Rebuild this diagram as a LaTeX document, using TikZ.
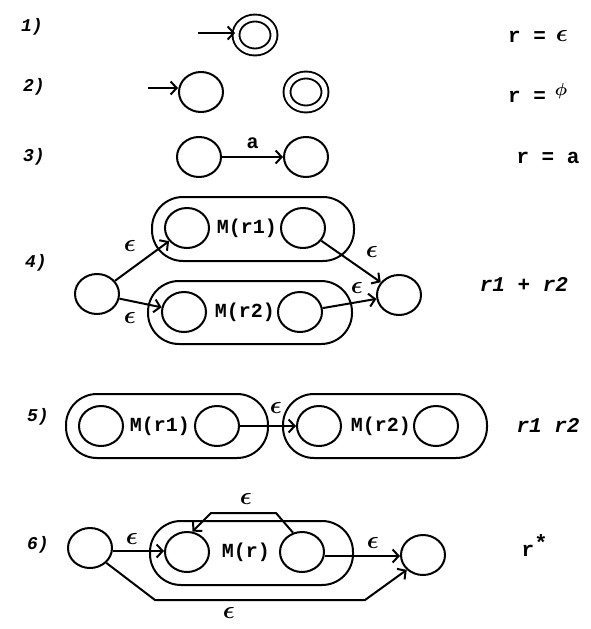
\documentclass[tikz,border=0pt]{standalone}
\usepackage{fontspec}
\setmonofont{Liberation Mono}
\usetikzlibrary{shapes.geometric,arrows.meta}
\begin{document}
\begin{tikzpicture}[x=1pt,y=-1pt,
 st/.style={draw, ellipse, line width=2pt, minimum width=44pt, minimum height=40pt, inner sep=0pt},
 acc/.style={draw, ellipse, double, double distance=5pt, line width=1.9pt, minimum width=38pt, minimum height=34pt, inner sep=0pt},
 arr/.style={line width=2pt, -{Straight Barb[length=6pt,width=13pt,line width=2pt]}},
 box/.style={draw, line width=2pt, rounded corners=31pt, rectangle, inner sep=0pt},
 num/.style={font=\ttfamily\bfseries\itshape\fontsize{18}{20}\selectfont},
 rhs/.style={font=\ttfamily\bfseries\fontsize{21}{23}\selectfont, inner sep=0pt},
 rhsi/.style={font=\ttfamily\bfseries\itshape\fontsize{21}{23}\selectfont, inner sep=0pt},
 mlab/.style={font=\ttfamily\bfseries\fontsize{20}{22}\selectfont, inner sep=0pt},
 eps/.style={font=\boldmath\fontsize{25}{27}\selectfont, inner sep=0pt},
]
\useasboundingbox (0,0) rectangle (591,629);
% 1)
\node[num] (n1) at (32,27) {1)};
\node[acc] (d1) at (255,35) {};
\coordinate (s1) at (198,33);
\draw[arr] (s1) -- (d1.west |- s1);
\node[rhs] (r1) at (527,37) {r =};
\node[eps] (e1) at (562,36) {$\epsilon$};
% 2)
\node[num] (n2) at (34,87) {2)};
\node[st] (q2) at (201,92) {};
\node[acc] (f2) at (306,92) {};
\coordinate (s2) at (148,88);
\draw[arr] (s2) -- (q2.west |- s2);
\node[rhs] (r2) at (527,97) {r =};
\node[font=\boldmath\fontsize{18}{20}\selectfont, inner sep=0pt] (phi) at (561,91) {$\phi$};
% 3)
\node[num] (n3) at (34,157) {3)};
\node[st] (a3) at (199,157) {};
\node[st] (b3) at (306,157) {};
\draw[arr] (a3) -- node[mlab, above=7pt] {a} (b3);
\node[rhs] (r3) at (548,158) {r = a};
% 4)
\node[num] (n4) at (36,263) {4)};
\node[box, minimum width=202pt, minimum height=64pt] (m41) at (253,229) {};
\node[box, minimum width=204pt, minimum height=63pt] (m42) at (250,312.5) {};
\node[st] (a41) at (187,228) {};
\node[st] (b41) at (303,228) {};
\node[mlab] (t41) at (247,228) {M(r1)};
\node[st] (a42) at (184,312) {};
\node[st] (b42) at (300,312) {};
\node[mlab] (t42) at (245,312) {M(r2)};
\node[st] (l4) at (97,294) {};
\node[st] (f4) at (399,295) {};
\draw[arr] (l4) -- (a41);
\draw[arr] (l4) -- (a42);
\draw[arr] (b41) -- (f4);
\draw[arr] (b42) -- (f4);
\node[eps] (e41) at (130,246) {$\epsilon$};
\node[eps] (e42) at (130,318) {$\epsilon$};
\node[eps] (e43) at (372,252) {$\epsilon$};
\node[eps] (e44) at (357,288) {$\epsilon$};
\node[rhsi] (r4) at (524,284) {r1 + r2};
% 5)
\node[num] (n5) at (38,417) {5)};
\node[box, minimum width=202pt, minimum height=64pt] (m51) at (167,426) {};
\node[box, minimum width=204pt, minimum height=64pt] (m52) at (385,426) {};
\node[st] (a51) at (101,426) {};
\node[st] (b51) at (217,426) {};
\node[mlab] (t51) at (160,426) {M(r1)};
\node[st] (a52) at (319,426) {};
\node[st] (b52) at (436,426) {};
\node[mlab] (t52) at (381,426) {M(r2)};
\draw[arr] (b51) -- (a52);
\node[eps] (e5) at (276,408) {$\epsilon$};
\node[rhsi] (r5) at (548,425) {r1 r2};
% 6)
\node[num] (n6) at (38,545) {6)};
\node[box, minimum width=203pt, minimum height=64pt] (m6) at (251.5,553) {};
\node[st] (l6) at (90,548) {};
\node[st] (a6) at (187,552) {};
\node[st] (b6) at (302,552) {};
\node[mlab] (t6) at (246,552) {M(r)};
\node[st] (f6) at (423,555) {};
\draw[arr] (l6.east |- 0,551) -- (a6.west |- 0,551);
\draw[arr] (b6.east |- 0,556) -- (f6.west |- 0,556);
\coordinate (p1) at (276,513);
\coordinate (p2) at (211,513);
\draw[arr] (b6.115) -- (p1) -- (p2) -- (a6.75);
\coordinate (q1) at (155,600);
\coordinate (q2b) at (365,600);
\draw[arr] (l6.south east) -- (q1) -- (q2b) -- (f6.south west);
\node[eps] (e61) at (132,539) {$\epsilon$};
\node[eps] (e62) at (246,499) {$\epsilon$};
\node[eps] (e63) at (373,543) {$\epsilon$};
\node[eps] (e64) at (229,613) {$\epsilon$};
\node[rhs] (r6) at (528,551) {r};
\node[font=\ttfamily\bfseries\fontsize{22}{24}\selectfont, inner sep=0pt] (star) at (541,543) {*};
\end{tikzpicture}
\end{document}
